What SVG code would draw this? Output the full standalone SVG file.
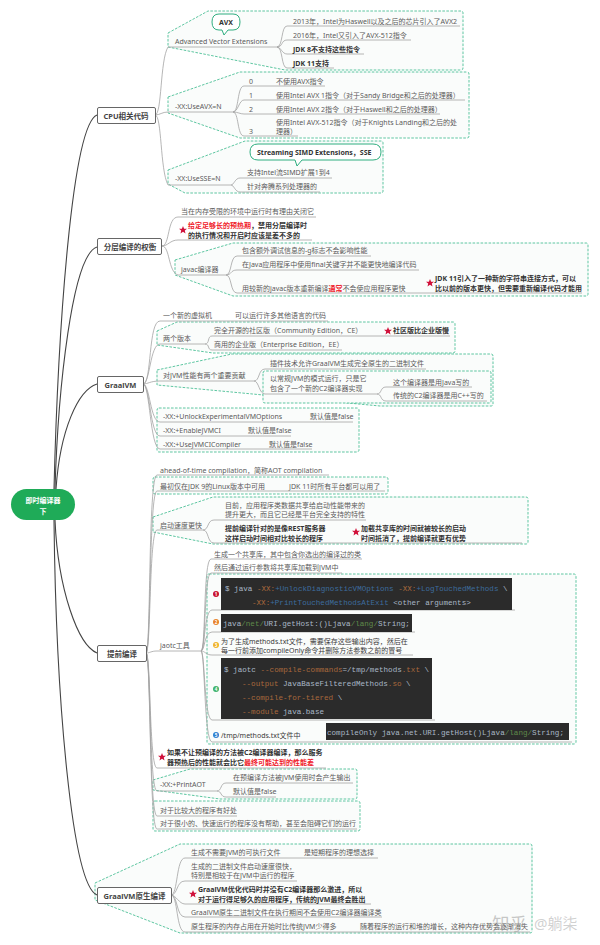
<svg xmlns="http://www.w3.org/2000/svg" xmlns:xlink="http://www.w3.org/1999/xlink" width="600" height="945" viewBox="0 0 600 945">
<style>
text{font-family:"Noto Sans","Noto Sans CJK SC",sans-serif;font-size:7px;fill:#5a5a5a}
.b{font-weight:700;fill:#333}
.r{font-weight:700;fill:#f0202a}
.br{font-size:7.5px;font-weight:700;fill:#444;text-anchor:middle}
.d{fill:#3a3a3a}
.box{fill:#fafcfb;stroke:#4cc096;stroke-width:.9;stroke-dasharray:2.6 1.4}
.bub{fill:#fff;stroke:#2fae80;stroke-width:1}
.node{fill:#fff;stroke:#666;stroke-width:1}
.main{fill:none;stroke:#444;stroke-width:1.1}
.l{fill:none;stroke:#a3a3a3;stroke-width:.8}
.code{fill:#2b2b2b}
.m{font-family:"Liberation Mono",monospace;font-size:7.6px;fill:#a9b7c6}
.o{fill:#a8683c}.u{fill:#3d6c9e}.g{fill:#5f8a4a}
.dig{font-size:4.5px;fill:#fff;text-anchor:middle;font-weight:700}
</style>
<defs>
<polygon id="star" points="0,-4 1.1,-1.3 4,-1.2 1.8,.6 2.5,3.4 0,1.8 -2.5,3.4 -1.8,.6 -4,-1.2 -1.1,-1.3" fill="#d0103a"/>
</defs>
<g id="boundaries">
<path class="box" d="M168,33L208,11H461Q463,11 463,13V68Q463,70 461,70H285L168,47Z"/>
<path class="box" d="M168,97L240,72H467Q469,72 469,74V136Q469,138 467,138H240L168,113Z"/>
<path class="box" d="M168,170L245,141H381Q383,141 383,143V191Q383,193 381,193H185L168,184Z"/>
<path class="box" d="M175,260L233,243H586Q588,243 588,245V294Q588,296 586,296H233L175,275Z"/>
<path class="box" d="M157,331L177,322H453Q455,322 455,324V351Q455,353 453,353H213L157,345Z"/>
<path class="box" d="M157,370L232,354H491Q493,354 493,356V404Q493,406 491,406H380L157,385Z"/>
<path class="box" d="M263,373Q263,371 265,371H489Q491,371 491,373V401Q491,403 489,403H265Q263,403 263,401Z"/>
<rect class="box" x="157" y="408" width="202" height="44" rx="2"/>
<rect class="box" x="153" y="477" width="235" height="17" rx="2"/>
<path class="box" d="M153,517L213,497H526Q528,497 528,499V542Q528,544 526,544H213L153,532Z"/>
<rect class="box" x="207" y="574" width="369" height="170" rx="2"/>
<path class="box" d="M153,780L190,769H355Q357,769 357,771V797Q357,799 355,799H220L153,790Z"/>
<rect class="box" x="153" y="801" width="207" height="30" rx="2"/>
<path class="box" d="M95,883L180,844H530Q532,844 532,846V931Q532,933 530,933H180L95,900Z"/>
</g>
<g id="connectors">
<path class="main" d="M54,489C58,330 72,125 97,115"/>
<path class="main" d="M55,489C58,390 72,255 97,247"/>
<path class="main" d="M56,489C60,430 78,390 97,384"/>
<path class="main" d="M55,520C58,590 78,645 97,653"/>
<path class="main" d="M54,520C56,700 72,885 97,895"/>
<path class="l" d="M155,115C162,115 160,60 168,47H277"/>
<path class="l" d="M155,115C160,115 162,112 168,112H233"/>
<path class="l" d="M155,115C162,115 160,170 168,185H231"/>
<path class="l" d="M277,47C283,47 281,26 287,26H460"/>
<path class="l" d="M277,47C283,47 281,40 287,40H411"/>
<path class="l" d="M277,47C281,47 282,54 287,54H364"/>
<path class="l" d="M277,47C283,47 281,68 287,68H334"/>
<path class="l" d="M233,112C239,112 237,86 244,86H325"/>
<path class="l" d="M233,112C238,112 239,100 244,100H465"/>
<path class="l" d="M233,112C238,112 240,114 244,114H440"/>
<path class="l" d="M233,112C239,112 237,136 244,136H298"/>
<path class="l" d="M231,185C234,185 235,178 240,178H332"/>
<path class="l" d="M231,185C234,185 235,192 240,192H320"/>
<path class="l" d="M162,246C170,246 167,217 178,217H316"/>
<path class="l" d="M162,246C168,246 170,240 178,240H312"/>
<path class="l" d="M162,246C170,246 168,272 178,275H226"/>
<path class="l" d="M226,275C232,275 230,256 237,256H371"/>
<path class="l" d="M226,275C232,275 230,270 237,270H419"/>
<path class="l" d="M226,275C232,275 230,293 237,293H582"/>
<path class="l" d="M143,384C152,384 148,321 160,321H328"/>
<path class="l" d="M143,384C150,384 150,344 160,344H205"/>
<path class="l" d="M143,384C148,384 150,381 160,381H254"/>
<path class="l" d="M143,384C150,384 150,422 160,422H353"/>
<path class="l" d="M143,384C150,384 150,436 160,436H291"/>
<path class="l" d="M143,384C150,384 150,449 160,449H312"/>
<path class="l" d="M205,344C210,344 207,336 212,336H450"/>
<path class="l" d="M205,344C210,344 207,350 212,350H342"/>
<path class="l" d="M254,381C260,381 258,369 265,369H426"/>
<path class="l" d="M254,381C259,381 259,394 265,394H377"/>
<path class="l" d="M377,394C382,394 380,387 386,387H472"/>
<path class="l" d="M377,394C382,394 380,401 386,401H487"/>
<path class="l" d="M146,653C151,653 148,475 157,475H329"/>
<path class="l" d="M146,653C151,653 149,491 157,491H385"/>
<path class="l" d="M146,653C151,653 149,530 157,530H203"/>
<path class="l" d="M146,653C150,653 151,651 157,651H201"/>
<path class="l" d="M146,653C151,653 149,768 157,768H326"/>
<path class="l" d="M146,653C151,653 149,791 157,791H217"/>
<path class="l" d="M146,653C151,653 149,816 157,816H237"/>
<path class="l" d="M146,653C151,653 149,829 157,829H357"/>
<path class="l" d="M203,530C209,530 207,520 214,520H366"/>
<path class="l" d="M203,530C209,530 207,543 214,543H522"/>
<path class="l" d="M201,651C206,651 203,559 211,559H362"/>
<path class="l" d="M201,651C206,651 204,573 211,573H342"/>
<path class="l" d="M201,651C205,651 204,610 212,610H515"/>
<path class="l" d="M201,651C205,651 204,632 212,632H415"/>
<path class="l" d="M201,651C205,651 206,655 212,655H413"/>
<path class="l" d="M201,651C205,651 204,720 212,720H435"/>
<path class="l" d="M201,651C205,651 204,742 212,742H572"/>
<path class="l" d="M217,791C222,791 220,783 226,783H353"/>
<path class="l" d="M217,791C222,791 220,797 226,797H276"/>
<path class="l" d="M171,895C178,895 176,858 185,858H378"/>
<path class="l" d="M171,895C178,895 176,881 185,881H297"/>
<path class="l" d="M171,895C176,895 179,904 185,904H371"/>
<path class="l" d="M171,895C178,895 176,917 185,917H382"/>
<path class="l" d="M171,895C178,895 176,932 185,932H530"/>
</g>
<g id="root"><rect x="11" y="489" width="64" height="31" rx="15.5" fill="#1fab58"/>
<text x="43" y="503" text-anchor="middle" style="fill:#fff;font-size:7px;font-weight:700">即时编译器</text>
<text x="43" y="514" text-anchor="middle" style="fill:#fff;font-size:7px;font-weight:700">下</text></g>
<g id="n-cpu"><rect class="node" x="97.500" y="107.500" width="58" height="16" rx="1.500"/><text class="br" x="126" y="118.500">CPU相关代码</text></g>
<g id="n-tier"><rect class="node" x="97.500" y="238.500" width="64" height="16" rx="1.500"/><text class="br" x="130" y="249.500">分层编译的权衡</text></g>
<g id="n-graal"><rect class="node" x="97.500" y="376.500" width="46" height="16" rx="1.500"/><text class="br" x="120.500" y="387.500">GraalVM</text></g>
<g id="n-aot"><rect class="node" x="97.500" y="645.500" width="49" height="16" rx="1.500"/><text class="br" x="122" y="656.500">提前编译</text></g>
<g id="n-native"><rect class="node" x="97.500" y="887.500" width="74" height="16" rx="1.500"/><text class="br" x="134.500" y="898.500">GraalVM原生编译</text></g>
<g id="n-avx"><text x="175" y="44">Advanced Vector Extensions</text>
<path class="bub" d="M219,14H233Q240,14 240,22T233,30H228L224,35L222,30H219Q212,30 212,22T219,14Z"/><text class="b" x="226" y="25" text-anchor="middle">AVX</text>
<text x="293" y="24">2013年，Intel为Haswell以及之后的芯片引入了AVX2</text>
<text x="293" y="38">2016年，Intel又引入了AVX-512指令</text>
<text class="b" x="293" y="52">JDK 8不支持这些指令</text>
<text class="b" x="293" y="66">JDK 11支持</text></g>
<g id="n-useavx"><text x="175" y="109">-XX:UseAVX=N</text>
<text x="249" y="84">0</text><text x="276" y="84">不使用AVX指令</text>
<text x="249" y="98">1</text><text x="276" y="98">使用Intel AVX 1指令（对于Sandy Bridge和之后的处理器）</text>
<text x="249" y="112">2</text><text x="276" y="112">使用Intel AVX 2指令（对于Haswell和之后的处理器）</text>
<text x="249" y="134">3</text><text x="276" y="125">使用Intel AVX-512指令（对于Knights Landing和之后的处</text><text x="276" y="134">理器）</text></g>
<g id="n-usesse"><text x="175" y="181">-XX:UseSSE=N</text>
<path class="bub" d="M258,144H373Q381,144 381,152T373,160H302L297,166L295,160H258Q250,160 250,152T258,144Z"/><text class="b" x="257" y="155">Streaming SIMD Extensions，SSE</text>
<text x="247" y="175">支持Intel流SIMD扩展1到4</text><text x="247" y="189">针对奔腾系列处理器的</text></g>
<g id="n-tier-leaves"><text x="181" y="214">当在内存受限的环境中运行时有理由关闭它</text>
<use xlink:href="#star" x="183" y="230"/><text class="b" x="188" y="228"><tspan class="r">给定足够长的预热期</tspan>，禁用分层编译时</text><text class="b" x="188" y="238">的执行情况和开启时应该是差不多的</text></g>
<g id="n-javac"><text x="181" y="272">javac编译器</text>
<text x="242" y="253">包含额外调试信息的-g标志不会影响性能</text>
<text x="242" y="267">在Java应用程序中使用final关键字并不能更快地编译代码</text>
<text x="242" y="291">用较新的javac版本重新编译<tspan class="r">通常</tspan>不会使应用程序更快</text>
<use xlink:href="#star" x="430" y="283"/><text class="b" x="435" y="281">JDK 11引入了一种新的字符串连接方式，可以</text><text class="b" x="435" y="291">比以前的版本更快，但需要重新编译代码才能用</text></g>
<g id="n-graal-leaves"><text x="163" y="318">一个新的虚拟机</text><text x="235" y="318">可以运行许多其他语言的代码</text>
<text x="163" y="341">两个版本</text><text x="214" y="333">完全开源的社区版（Community Edition，CE）</text>
<use xlink:href="#star" x="388" y="331"/><text class="b" x="393" y="333">社区版比企业版慢</text>
<text x="214" y="347">商用的企业版（Enterprise Edition，EE）</text>
<text x="163" y="378">对JVM性能有两个重要贡献</text><text x="270" y="366">插件技术允许GraalVM生成完全原生的二进制文件</text>
<text x="270" y="381">以常规JVM的模式运行，只是它</text><text x="270" y="391">包含了一个新的C2编译器实现</text>
<text x="393" y="385">这个编译器是用Java写的</text><text x="393" y="398">传统的C2编译器是用C++写的</text>
<text x="163" y="419">-XX:+UnlockExperimentalVMOptions</text><text x="310" y="419">默认值是false</text>
<text x="163" y="433">-XX:+EnableJVMCI</text><text x="248" y="433">默认值是false</text>
<text x="163" y="447">-XX:+UseJVMCICompiler</text><text x="269" y="447">默认值是false</text></g>
<g id="n-aot-leaves"><text x="160" y="473">ahead-of-time compilation，简称AOT compilation</text>
<text x="160" y="489">最初仅在JDK 9的Linux版本中可用</text><text x="289" y="489">JDK 11时所有平台都可以用了</text>
<text x="160" y="528">启动速度更快</text>
<text x="225" y="508">目前，应用程序类数据共享给启动性能带来的</text><text x="225" y="517">提升更大，而且它已经是平台完全支持的特性</text>
<text class="b" x="225" y="531">提前编译针对的是像REST服务器</text><text class="b" x="225" y="541">这样启动时间相对比较长的程序</text>
<use xlink:href="#star" x="356" y="532"/><text class="b" x="361" y="531">加载共享库的时间就被较长的启动</text><text class="b" x="361" y="541">时间抵消了，提前编译就更有优势</text>
<text x="160" y="648">jaotc工具</text>
<text x="214" y="557">生成一个共享库，其中包含你选出的编译过的类</text><text x="214" y="570">然后通过运行参数将共享库加载到JVM中</text></g>
<g id="n-code1"><circle cx="216" cy="594" r="3" fill="#c8102e"/><text class="dig" x="216" y="595.700">1</text>
<rect class="code" x="221" y="578" width="291" height="32"/>
<text class="m" x="225" y="591">$ java <tspan class="o">-XX:</tspan><tspan class="u">+UnlockDiagnosticVMOptions</tspan> <tspan class="o">-XX:</tspan><tspan class="u">+LogTouchedMethods</tspan> \</text>
<text class="m" x="252" y="605"><tspan class="o">-XX:</tspan><tspan class="u">+PrintTouchedMethodsAtExit</tspan> &lt;other arguments&gt;</text></g>
<g id="n-code2"><circle cx="216" cy="622" r="3" fill="#e8832a"/><text class="dig" x="216" y="623.700">2</text>
<rect class="code" x="221" y="614" width="191" height="18"/>
<text class="m" x="223" y="626">java<tspan class="g">/net/</tspan>URI.getHost:()Ljava<tspan class="g">/lang/</tspan>String;</text></g>
<g id="n-code3"><circle cx="216" cy="645" r="3" fill="#f0b429"/><text class="dig" x="216" y="646.700">3</text>
<text class="d" x="221" y="644">为了生成methods.txt文件，需要保存这些输出内容，然后在</text><text class="d" x="221" y="653">每一行前添加compileOnly命令并删除方法参数之前的冒号</text></g>
<g id="n-code4"><circle cx="216" cy="689" r="3" fill="#3fb36b"/><text class="dig" x="216" y="690.700">4</text>
<rect class="code" x="221" y="658" width="211" height="61"/>
<text class="m" x="224" y="672">$ jaotc <tspan class="o">--compile-commands</tspan>=/tmp/methods<tspan class="o">.txt</tspan> \</text>
<text class="m" x="242" y="686"><tspan class="o">--output</tspan> JavaBaseFilteredMethods<tspan class="o">.so</tspan> \</text>
<text class="m" x="242" y="700"><tspan class="o">--compile-for-tiered</tspan> \</text>
<text class="m" x="242" y="714"><tspan class="o">--module</tspan> java.base</text></g>
<g id="n-code5"><circle cx="216" cy="735" r="3" fill="#2f80d0"/><text class="dig" x="216" y="736.700">5</text>
<text class="d" x="221" y="738">/tmp/methods.txt文件中</text>
<rect class="code" x="326" y="723" width="243" height="17"/>
<text class="m" x="327" y="735">compileOnly java.net.URI.getHost()Ljava<tspan class="g">/lang/</tspan>String;</text></g>
<g id="n-aot-tail"><use xlink:href="#star" x="162" y="757"/><text class="b" x="167" y="755">如果不让预编译的方法被C2编译器编译，那么服务</text><text class="b" x="167" y="765">器预热后的性能就会比它<tspan class="r">最终可能达到的性能差</tspan></text>
<text x="160" y="787">-XX:+PrintAOT</text><text x="233" y="780">在预编译方法被JVM使用时会产生输出</text><text x="233" y="794">默认值是false</text>
<text x="160" y="813">对于比较大的程序有好处</text><text x="160" y="826">对于很小的、快速运行的程序没有帮助，甚至会阻碍它们的运行</text></g>
<g id="n-native-leaves"><text x="191" y="855">生成不需要JVM的可执行文件</text><text x="304" y="855">是短期程序的理想选择</text>
<text x="191" y="869">生成的二进制文件启动速度很快，</text><text x="191" y="878">特别是相较于在JVM中运行的程序</text>
<use xlink:href="#star" x="193" y="894"/><text class="b" x="198" y="892">GraalVM优化代码时并没有C2编译器那么激进，所以</text><text class="b" x="198" y="902">对于运行得足够久的应用程序，传统的JVM最终会胜出</text>
<text x="191" y="915">GraalVM原生二进制文件在执行期间不会使用C2编译器编译类</text>
<text x="191" y="929">原生程序的内存占用在开始时比传统JVM少得多</text><text x="360" y="929">随着程序的运行和堆的增长，这种内存优势会逐渐消失</text></g>
<g id="watermark"><text x="492" y="930" style="font-size:17.500px;fill:#999;fill-opacity:.55">知乎</text><text x="534" y="929" style="font-size:15px;fill:#aaa;fill-opacity:.55">@躺柒</text></g>
</svg>
